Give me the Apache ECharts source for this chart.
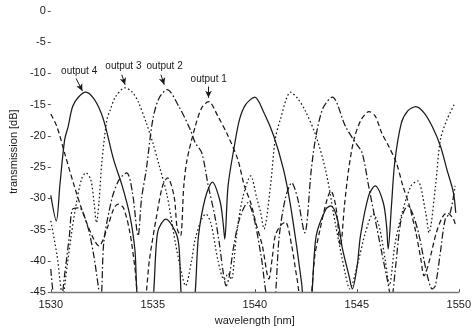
<!DOCTYPE html>
<html>
<head>
<meta charset="utf-8">
<script src="https://cdn.jsdelivr.net/npm/echarts@6/dist/echarts.min.js"></script>
<style>
  html, body { margin: 0; padding: 0; background: #fff; }
  #chart { width: 474px; height: 331px; }
</style>
</head>
<body>
<div id="chart"></div>
<script>
// Transmission spectra of the four outputs: [wavelength nm, transmission dB]
// (nulls deeper than the -45 dB floor are clipped by the plot area)
const output4 = [
  [1530.0,-29.5],[1530.27,-33.6],[1530.45,-27.7],[1530.68,-20.6],[1530.85,-18.5],[1531.07,-15.3],
  [1531.35,-13.8],[1531.72,-13.0],[1532.1,-14.0],[1532.44,-16.1],[1532.68,-18.5],[1533.08,-23.8],
  [1533.5,-28.0],[1533.88,-32.8],[1534.12,-38.1],[1534.35,-47],[1534.9,-47],[1535.24,-35.4],
  [1535.64,-33.3],[1536.12,-35.4],[1536.28,-37.6],[1536.5,-47],[1536.95,-47],[1537.24,-36.0],
  [1537.56,-30.1],[1537.92,-27.4],[1538.3,-30.5],[1538.45,-34.0],[1538.53,-36.5],[1538.69,-28.0],
  [1539.0,-21.6],[1539.25,-17.4],[1539.55,-15.0],[1540.0,-13.8],[1540.45,-16.3],[1540.93,-20.0],
  [1541.41,-25.4],[1541.73,-30.7],[1542.05,-37.6],[1542.29,-43.4],[1542.45,-47],[1542.7,-47],
  [1543.01,-36.0],[1543.49,-31.7],[1543.73,-31.2],[1544.05,-33.3],[1544.3,-38.1],[1544.62,-42.4],
  [1544.78,-44.5],[1545.02,-40.8],[1545.18,-36.0],[1545.58,-29.6],[1545.9,-28.0],[1546.3,-30.7],
  [1546.46,-34.4],[1546.54,-38.1],[1546.7,-31.2],[1546.86,-24.3],[1547.18,-18.0],[1547.5,-16.0],
  [1547.9,-15.3],[1548.3,-16.3],[1548.7,-18.5],[1549.1,-21.6],[1549.42,-25.4],[1549.74,-29.1],
  [1549.85,-32.3]
];
const output3 = [
  [1530.0,-33.6],[1530.3,-39.0],[1530.6,-46],[1530.7,-43.4],[1531.0,-36.0],[1531.23,-31.2],
  [1531.5,-27.0],[1531.72,-25.9],[1531.96,-27.0],[1532.12,-30.7],[1532.24,-33.9],[1532.36,-30.7],
  [1532.5,-24.3],[1532.75,-17.4],[1532.92,-15.8],[1533.16,-13.8],[1533.64,-12.3],[1534.0,-13.0],
  [1534.28,-14.5],[1534.68,-17.9],[1535.0,-21.1],[1535.32,-24.8],[1535.7,-29.5],[1536.1,-37.0],
  [1536.44,-42.4],[1536.6,-44.0],[1536.9,-40.0],[1537.08,-36.5],[1537.4,-33.3],[1537.6,-32.5],
  [1537.85,-34.0],[1538.2,-40.0],[1538.5,-43.0],[1538.7,-42.0],[1538.85,-43.0],[1539.1,-36.0],
  [1539.4,-30.0],[1539.8,-26.4],[1540.1,-30.0],[1540.29,-32.3],[1540.45,-34.9],[1540.77,-28.0],
  [1541.0,-20.6],[1541.25,-17.4],[1541.76,-13.0],[1542.1,-14.0],[1542.45,-15.8],[1543.0,-20.0],
  [1543.5,-25.9],[1543.97,-34.4],[1544.46,-42.4],[1544.65,-44.5],[1545.1,-39.7],[1545.42,-35.5],
  [1545.8,-32.5],[1546.1,-34.5],[1546.4,-40.0],[1546.6,-43.9],[1546.86,-37.6],[1547.18,-32.8],
  [1547.66,-28.0],[1547.98,-27.2],[1548.38,-32.3],[1548.54,-35.5],[1548.86,-28.0],[1549.1,-20.6],
  [1549.42,-17.4],[1549.82,-14.7]
];
const output2 = [
  [1530.0,-41.3],[1530.25,-47],[1530.45,-47],[1530.67,-42.4],[1530.91,-36.0],[1531.07,-31.7],
  [1531.39,-31.5],[1531.8,-34.4],[1532.1,-39.0],[1532.45,-46],[1532.6,-37.0],[1533.0,-30.0],
  [1533.35,-27.0],[1533.72,-25.9],[1534.0,-29.0],[1534.28,-36.0],[1534.45,-30.0],[1534.68,-25.4],
  [1535.0,-17.4],[1535.3,-14.0],[1535.7,-12.6],[1536.28,-15.3],[1536.84,-19.0],[1537.08,-21.1],
  [1537.4,-22.7],[1537.72,-28.0],[1538.04,-32.8],[1538.28,-37.6],[1538.45,-41.8],[1538.6,-44.0],
  [1538.75,-42.5],[1538.95,-38.0],[1539.25,-33.3],[1539.65,-30.7],[1539.95,-33.0],[1540.3,-39.0],
  [1540.72,-47],[1540.92,-47],[1541.2,-36.0],[1541.5,-30.0],[1541.81,-27.5],[1542.1,-30.0],
  [1542.45,-35.5],[1542.77,-25.4],[1543.0,-20.0],[1543.35,-15.5],[1543.8,-13.8],[1544.45,-18.5],
  [1544.94,-21.1],[1545.26,-22.7],[1545.58,-28.0],[1545.9,-33.3],[1546.22,-38.6],[1546.46,-42.4],
  [1546.7,-46],[1546.9,-41.0],[1547.18,-33.3],[1547.5,-31.2],[1547.75,-32.5],[1548.06,-36.0],
  [1548.4,-41.5],[1548.7,-44.5],[1548.85,-44.0],[1549.1,-38.6],[1549.34,-33.3],[1549.58,-32.3],
  [1549.82,-28.0]
];
const output1 = [
  [1530.0,-16.5],[1530.3,-18.5],[1530.7,-23.0],[1531.15,-28.0],[1531.63,-32.8],[1532.1,-36.5],
  [1532.36,-37.6],[1532.75,-34.9],[1533.08,-31.7],[1533.3,-30.9],[1533.56,-31.5],[1533.88,-35.5],
  [1534.12,-41.0],[1534.35,-47],[1534.55,-47],[1534.84,-39.7],[1535.16,-33.3],[1535.48,-28.0],
  [1535.72,-26.7],[1536.04,-29.6],[1536.2,-34.9],[1536.36,-36.0],[1536.52,-28.0],[1536.68,-23.8],
  [1537.08,-18.5],[1537.4,-15.5],[1537.73,-14.5],[1538.2,-16.9],[1538.69,-20.0],[1539.17,-23.8],
  [1539.49,-28.0],[1539.8,-30.7],[1540.05,-33.9],[1540.37,-37.6],[1540.69,-42.9],[1540.85,-39.7],
  [1541.0,-36.0],[1541.25,-34.4],[1541.5,-33.8],[1541.81,-37.6],[1542.05,-42.4],[1542.35,-47],
  [1542.65,-47],[1542.95,-39.0],[1543.17,-35.4],[1543.5,-30.7],[1543.73,-28.8],[1543.97,-31.2],
  [1544.2,-37.6],[1544.4,-31.0],[1544.6,-25.4],[1544.86,-20.6],[1545.2,-17.5],[1545.6,-16.1],
  [1545.9,-16.8],[1546.22,-19.5],[1546.54,-21.5],[1546.94,-24.3],[1547.26,-28.0],[1547.58,-31.2],
  [1547.9,-35.5],[1548.14,-39.7],[1548.3,-42.4],[1548.54,-40.2],[1548.9,-35.5],[1549.2,-33.0],
  [1549.42,-32.3],[1549.74,-33.3],[1549.85,-34.5]
];

// Annotation text and arrows, in data coordinates
const labelNames = ['output 4', 'output 3', 'output 2', 'output 1'];
const labelAnchors = [[1531.39, -9.6], [1533.56, -8.8], [1535.58, -8.8], [1537.74, -10.9]];
const arrowTails = [[1531.24, -10.8], [1533.48, -10.2], [1535.4, -10.2], [1537.73, -12.1]];
const arrowHeads = [[1531.55, -12.8], [1533.64, -11.8], [1535.56, -11.8], [1537.73, -13.9]];

const xTicks = [1530, 1535, 1540, 1545, 1550];
const yMin = -45, yMax = 0;

const INK = '#1a1a1a';
const FONT = 'Liberation Sans, Arial, Helvetica, sans-serif';

const chart = echarts.init(document.getElementById('chart'), null, { renderer: 'canvas' });

function lineSeries(name, data, dash) {
  return {
    name: name,
    type: 'line',
    data: data,
    smooth: 0.3,
    showSymbol: false,
    clip: true,
    lineStyle: { color: INK, width: 1.25, type: dash },
    z: 2
  };
}

const series = [
  lineSeries('output 4', output4, 'solid'),
  lineSeries('output 3', output3, [1.6, 2.4]),
  lineSeries('output 2', output2, [7, 2.5, 1.6, 2.5]),
  lineSeries('output 1', output1, [5, 3])
];

// arrows pointing from each caption to its curve
series.push({
  type: 'line',
  data: [],
  markLine: {
    silent: true,
    symbol: ['none', 'arrow'],
    symbolSize: [5, 7],
    label: { show: false },
    lineStyle: { color: INK, width: 1, type: 'solid' },
    data: arrowTails.map((t, i) => [{ coord: t }, { coord: arrowHeads[i] }])
  }
});

chart.setOption({
  animation: false,
  backgroundColor: '#fff',
  grid: { left: 46, right: 12, top: 11, bottom: 38, containLabel: false },
  xAxis: {
    type: 'value',
    min: xTicks[0],
    max: xTicks[xTicks.length - 1],
    interval: 5,
    name: 'wavelength [nm]',
    nameLocation: 'middle',
    nameGap: 21,
    nameTextStyle: { color: INK, fontFamily: FONT, fontSize: 11 },
    axisLine: { show: true, onZero: false, lineStyle: { color: '#777', width: 1.4 } },
    axisTick: { show: true, inside: true, length: 3, lineStyle: { color: '#555' } },
    axisLabel: { color: INK, fontFamily: FONT, fontSize: 11, margin: 7, formatter: v => String(v) },
    splitLine: { show: false },
    z: 5
  },
  yAxis: {
    type: 'value',
    min: yMin,
    max: yMax,
    interval: 5,
    name: 'transmission [dB]',
    nameLocation: 'middle',
    nameGap: 31,
    nameRotate: 90,
    nameTextStyle: { color: INK, fontFamily: FONT, fontSize: 11 },
    axisLine: { show: false, onZero: false },
    axisTick: { show: true, length: 3, lineStyle: { color: '#555' } },
    axisLabel: { color: INK, fontFamily: FONT, fontSize: 11, margin: 5 },
    splitLine: { show: false }
  },
  series: series
});

// captions placed at their data positions
chart.setOption({
  graphic: labelNames.map((txt, i) => {
    const p = chart.convertToPixel({ gridIndex: 0 }, labelAnchors[i]);
    return {
      type: 'text',
      x: p[0],
      y: p[1],
      style: {
        text: txt,
        fill: INK,
        font: '10px ' + FONT,
        textAlign: 'center',
        textVerticalAlign: 'middle'
      },
      z: 10
    };
  })
});
</script>
</body>
</html>
